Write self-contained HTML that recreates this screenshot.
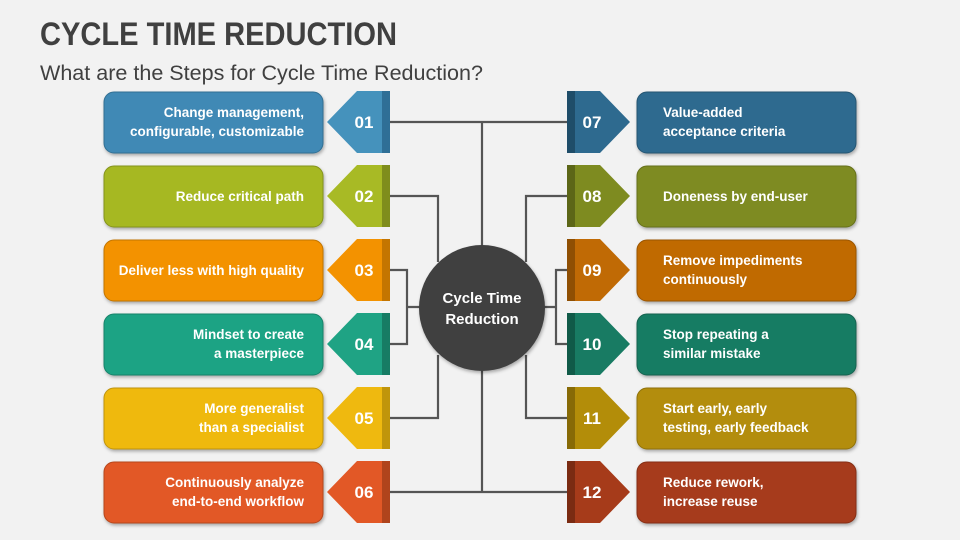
<!DOCTYPE html>
<html><head><meta charset="utf-8"><style>
html,body{margin:0;padding:0;background:#F2F2F2;}
svg{display:block;font-family:"Liberation Sans",sans-serif;}
</style></head><body>
<svg width="960" height="540" viewBox="0 0 960 540" xmlns="http://www.w3.org/2000/svg">
<defs>
<filter id="sh" x="-10%" y="-10%" width="120%" height="130%"><feDropShadow dx="1" dy="2" stdDeviation="1.5" flood-color="#000" flood-opacity="0.3"/></filter>
</defs>
<rect width="960" height="540" fill="#F2F2F2"/>
<text x="40" y="45" font-size="32" font-weight="bold" fill="#404040" textLength="357" lengthAdjust="spacingAndGlyphs">CYCLE TIME REDUCTION</text>
<text x="40" y="80" font-size="21" fill="#404040" textLength="443" lengthAdjust="spacingAndGlyphs">What are the Steps for Cycle Time Reduction?</text>

<g stroke="#555" stroke-width="2.2" fill="none">
<path d="M390 122H567M482 122V250"/>
<path d="M390 492H567M482 492V368"/>
<path d="M390 196H438V262"/>
<path d="M567 196H526V262"/>
<path d="M390 270H407V344H390M407 307H422"/>
<path d="M567 270H556V344H567M556 307H542"/>
<path d="M390 418H438V355"/>
<path d="M567 418H526V355"/>
</g>
<circle cx="482" cy="308" r="63" fill="#404040" filter="url(#sh)"/>
<text x="482" y="303" font-size="15" font-weight="bold" fill="#fff" text-anchor="middle">Cycle Time</text>
<text x="482" y="324" font-size="15" font-weight="bold" fill="#fff" text-anchor="middle">Reduction</text>

<g font-size="13.5" font-weight="bold" fill="#fff">
<g filter="url(#sh)">
<rect x="104" y="92" width="219" height="61" rx="10" fill="#3F89B5" stroke="#336f93"/>
<rect x="104" y="166" width="219" height="61" rx="10" fill="#A6B823" stroke="#84931c"/>
<rect x="104" y="240" width="219" height="61" rx="10" fill="#F39200" stroke="#c27400"/>
<rect x="104" y="314" width="219" height="61" rx="10" fill="#1FA384" stroke="#19836a"/>
<rect x="104" y="388" width="219" height="61" rx="10" fill="#EFB90F" stroke="#bf940c"/>
<rect x="104" y="462" width="219" height="61" rx="10" fill="#E25826" stroke="#b5461e"/>
<rect x="637" y="92" width="219" height="61" rx="10" fill="#2E6A8F" stroke="#255572"/>
<rect x="637" y="166" width="219" height="61" rx="10" fill="#7E8B20" stroke="#656f1a"/>
<rect x="637" y="240" width="219" height="61" rx="10" fill="#C06A05" stroke="#9a5504"/>
<rect x="637" y="314" width="219" height="61" rx="10" fill="#187B63" stroke="#13624f"/>
<rect x="637" y="388" width="219" height="61" rx="10" fill="#B38D09" stroke="#8f7107"/>
<rect x="637" y="462" width="219" height="61" rx="10" fill="#A63B1A" stroke="#852f15"/>
</g>
<g>
<path d="M327 122L357 91H390V153H357Z" fill="#4592BC"/><rect x="382" y="91" width="8" height="62" fill="#2f6f96"/>
<path d="M327 196L357 165H390V227H357Z" fill="#A8BA25"/><rect x="382" y="165" width="8" height="62" fill="#7f8d1c"/>
<path d="M327 270L357 239H390V301H357Z" fill="#F39200"/><rect x="382" y="239" width="8" height="62" fill="#c47500"/>
<path d="M327 344L357 313H390V375H357Z" fill="#1FA384"/><rect x="382" y="313" width="8" height="62" fill="#177c64"/>
<path d="M327 418L357 387H390V449H357Z" fill="#EFB90F"/><rect x="382" y="387" width="8" height="62" fill="#c0950b"/>
<path d="M327 492L357 461H390V523H357Z" fill="#E25826"/><rect x="382" y="461" width="8" height="62" fill="#b0441c"/>
</g>
<g>
<path d="M567 91H600L630 122L600 153H567Z" fill="#2E6A8F"/><rect x="567" y="91" width="8" height="62" fill="#1f4d69"/>
<path d="M567 165H600L630 196L600 227H567Z" fill="#7E8B20"/><rect x="567" y="165" width="8" height="62" fill="#5c6617"/>
<path d="M567 239H600L630 270L600 301H567Z" fill="#C06A05"/><rect x="567" y="239" width="8" height="62" fill="#8f4f03"/>
<path d="M567 313H600L630 344L600 375H567Z" fill="#187B63"/><rect x="567" y="313" width="8" height="62" fill="#105a48"/>
<path d="M567 387H600L630 418L600 449H567Z" fill="#B38D09"/><rect x="567" y="387" width="8" height="62" fill="#876a06"/>
<path d="M567 461H600L630 492L600 523H567Z" fill="#A63B1A"/><rect x="567" y="461" width="8" height="62" fill="#7a2b12"/>
</g>
<g font-size="17" text-anchor="middle">
<text x="364" y="128">01</text><text x="364" y="202">02</text><text x="364" y="276">03</text>
<text x="364" y="350">04</text><text x="364" y="424">05</text><text x="364" y="498">06</text>
<text x="592" y="128">07</text><text x="592" y="202">08</text><text x="592" y="276">09</text>
<text x="592" y="350">10</text><text x="592" y="424">11</text><text x="592" y="498">12</text>
</g>
<g text-anchor="end">
<text x="304" y="117">Change management,</text><text x="304" y="136">configurable, customizable</text>
<text x="304" y="201">Reduce critical path</text>
<text x="304" y="275">Deliver less with high quality</text>
<text x="304" y="339">Mindset to create</text><text x="304" y="358">a masterpiece</text>
<text x="304" y="413">More generalist</text><text x="304" y="432">than a specialist</text>
<text x="304" y="487">Continuously analyze</text><text x="304" y="506">end-to-end workflow</text>
</g>
<g>
<text x="663" y="117">Value-added</text><text x="663" y="136">acceptance criteria</text>
<text x="663" y="201">Doneness by end-user</text>
<text x="663" y="265">Remove impediments</text><text x="663" y="284">continuously</text>
<text x="663" y="339">Stop repeating a</text><text x="663" y="358">similar mistake</text>
<text x="663" y="413">Start early, early</text><text x="663" y="432">testing, early feedback</text>
<text x="663" y="487">Reduce rework,</text><text x="663" y="506">increase reuse</text>
</g>
</g>
</svg>
</body></html>
